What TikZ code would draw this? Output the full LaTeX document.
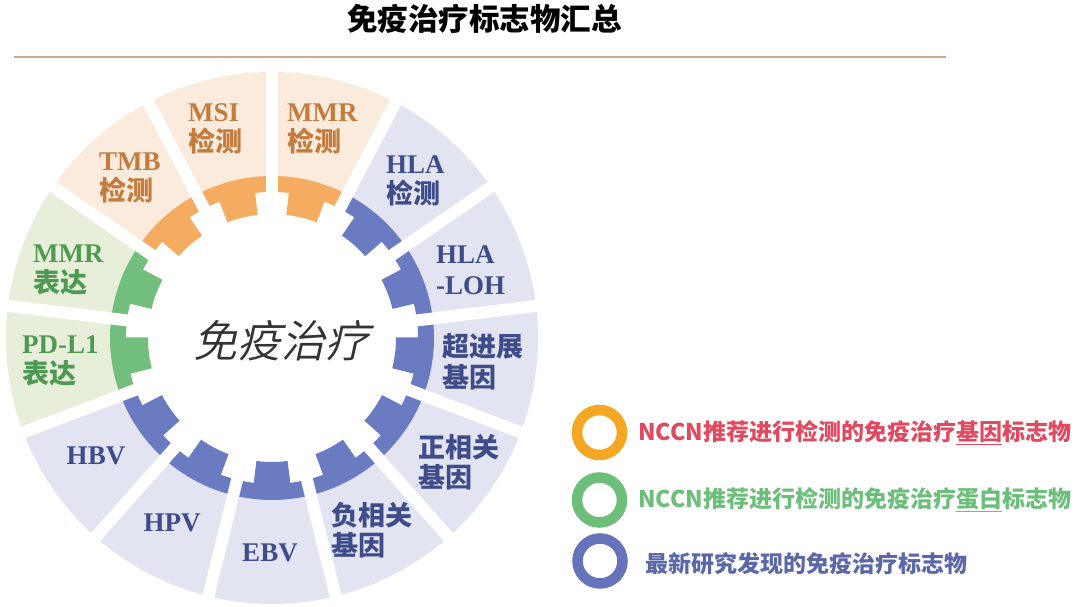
\documentclass[tikz,border=0pt]{standalone}
\usepackage{fontspec}
\setmainfont{Liberation Serif}
\newfontfamily\cjk{Noto Sans CJK SC}
\newfontfamily\cjkmed{Noto Sans CJK SC Medium}
\newfontfamily\cjkblack{Noto Sans CJK SC Black}
\newfontfamily\cjkslant{Noto Sans CJK SC DemiLight}[FakeSlant=0.22]
\definecolor{olight}{HTML}{FBEBDC}
\definecolor{odark}{HTML}{F5AB60}
\definecolor{otext}{HTML}{C27C3E}
\definecolor{glight}{HTML}{E7EFDB}
\definecolor{gdark}{HTML}{72BE7C}
\definecolor{gtext}{HTML}{4F9A52}
\definecolor{blight}{HTML}{E3E4F1}
\definecolor{bdark}{HTML}{6A7BC2}
\definecolor{btext}{HTML}{3E4C8A}
\definecolor{lineC}{HTML}{C9AB95}
\definecolor{ringO}{HTML}{F5A623}
\definecolor{ringG}{HTML}{6DBE78}
\definecolor{ringB}{HTML}{6473BA}
\definecolor{legR}{HTML}{E04A60}
\definecolor{legG}{HTML}{6CBF7A}
\definecolor{legB}{HTML}{5B68A8}
\newcommand\zh[1]{{\cjkmed #1}}
\tikzset{
  lbl/.style={inner sep=0pt, align=left, font=\fontsize{27}{30.5}\selectfont\bfseries},
  ring/.style={line width=10.5pt},
  legtext/.style={anchor=west, inner sep=0pt, font=\cjk\bfseries\fontsize{23}{23}\selectfont}
}
\begin{document}
\begin{tikzpicture}[x=1pt,y=1pt]
\useasboundingbox (0,0) rectangle (1075,607);
\fill[white] (0,0) rectangle (1075,607);
% title
\node[inner sep=0pt] (title) at (484.5,588) {\cjkblack\fontsize{30.5}{30.5}\selectfont 免疫治疗标志物汇总};
\coordinate (l1) at (14,550);
\coordinate (l2) at (946,550);
\draw[lineC, line width=2pt] (l1) -- (l2);
% wheel
\begin{scope}[shift={(272,269)}]
\foreach \i/\lc/\dc in {0/olight/odark,1/olight/odark,2/glight/gdark,3/glight/gdark,4/blight/bdark,5/blight/bdark,6/blight/bdark,7/blight/bdark,8/blight/bdark,9/blight/bdark,10/blight/bdark,11/blight/bdark,12/olight/odark}{
  \pgfmathsetmacro\a{90+\i*360/13}
  \pgfmathsetmacro\b{\a+360/13}
  \pgfmathsetmacro\ta{\a+180/13-7.2}
  \pgfmathsetmacro\tb{\a+180/13+7.2}
  \fill[\lc] (\a:147) arc[start angle=\a,end angle=\b,radius=147] -- (\b:266) arc[start angle=\b,end angle=\a,radius=266] -- cycle;
  \fill[\dc] (\a:146) arc[start angle=\a,end angle=\b,radius=146] -- (\b:162) arc[start angle=\b,end angle=\a,radius=162] -- cycle;
  \fill[\dc] (\ta:124) arc[start angle=\ta,end angle=\tb,radius=124] -- (\tb:147) arc[start angle=\tb,end angle=\ta,radius=147] -- cycle;
}
\foreach \i in {0,...,12}{
  \pgfmathsetmacro\a{90+\i*360/13}
  \draw[white, line width=12pt] (\a:105) -- (\a:275);
}
\end{scope}
\node[inner sep=0pt, text=black!80] (centre) at (281,266) {\cjkslant\fontsize{44}{44}\selectfont 免疫治疗};
% labels
\node[lbl, anchor=west, text=otext] (tmb) at (99,429) {TMB\\\zh{检测}};
\node[lbl, anchor=west, text=otext] (msi) at (188,478) {MSI\\\zh{检测}};
\node[lbl, anchor=west, text=otext] (mmrd) at (287,478) {MMR\\\zh{检测}};
\node[lbl, anchor=west, text=btext] (hla) at (386,426) {HLA\\\zh{检测}};
\node[lbl, anchor=west, text=btext] (hlaloh) at (436,337) {HLA\\-LOH};
\node[lbl, anchor=west, text=gtext] (mmre) at (33,337) {MMR\\\zh{表达}};
\node[lbl, anchor=west, text=gtext] (pdl1) at (22,246) {PD-L1\\\zh{表达}};
\node[lbl, anchor=west, text=btext] (hyper) at (442,245) {\zh{超进展}\\\zh{基因}};
\node[lbl, anchor=west, text=btext] (pos) at (418,145) {\zh{正相关}\\\zh{基因}};
\node[lbl, anchor=west, text=btext] (neg) at (331,77) {\zh{负相关}\\\zh{基因}};
\node[lbl, text=btext] (ebv) at (270,54) {EBV};
\node[lbl, text=btext] (hpv) at (172,84) {HPV};
\node[lbl, text=btext] (hbv) at (96,151) {HBV};
% legend
\node[circle, draw=ringO, ring, minimum size=45pt, inner sep=0pt] (r1) at (599.5,174.5) {};
\node[circle, draw=ringG, ring, minimum size=45pt, inner sep=0pt] (r2) at (599.5,107) {};
\node[circle, draw=ringB, ring, minimum size=45pt, inner sep=0pt] (r3) at (600,46) {};
\node[legtext, text=legR] (t1) at (638,174) {NCCN推荐进行检测的免疫治疗\underline{基因}标志物};
\node[legtext, text=legG] (t2) at (638,107) {NCCN推荐进行检测的免疫治疗\underline{蛋白}标志物};
\node[legtext, text=legB] (t3) at (645,43) {最新研究发现的免疫治疗标志物};
\end{tikzpicture}
\end{document}
